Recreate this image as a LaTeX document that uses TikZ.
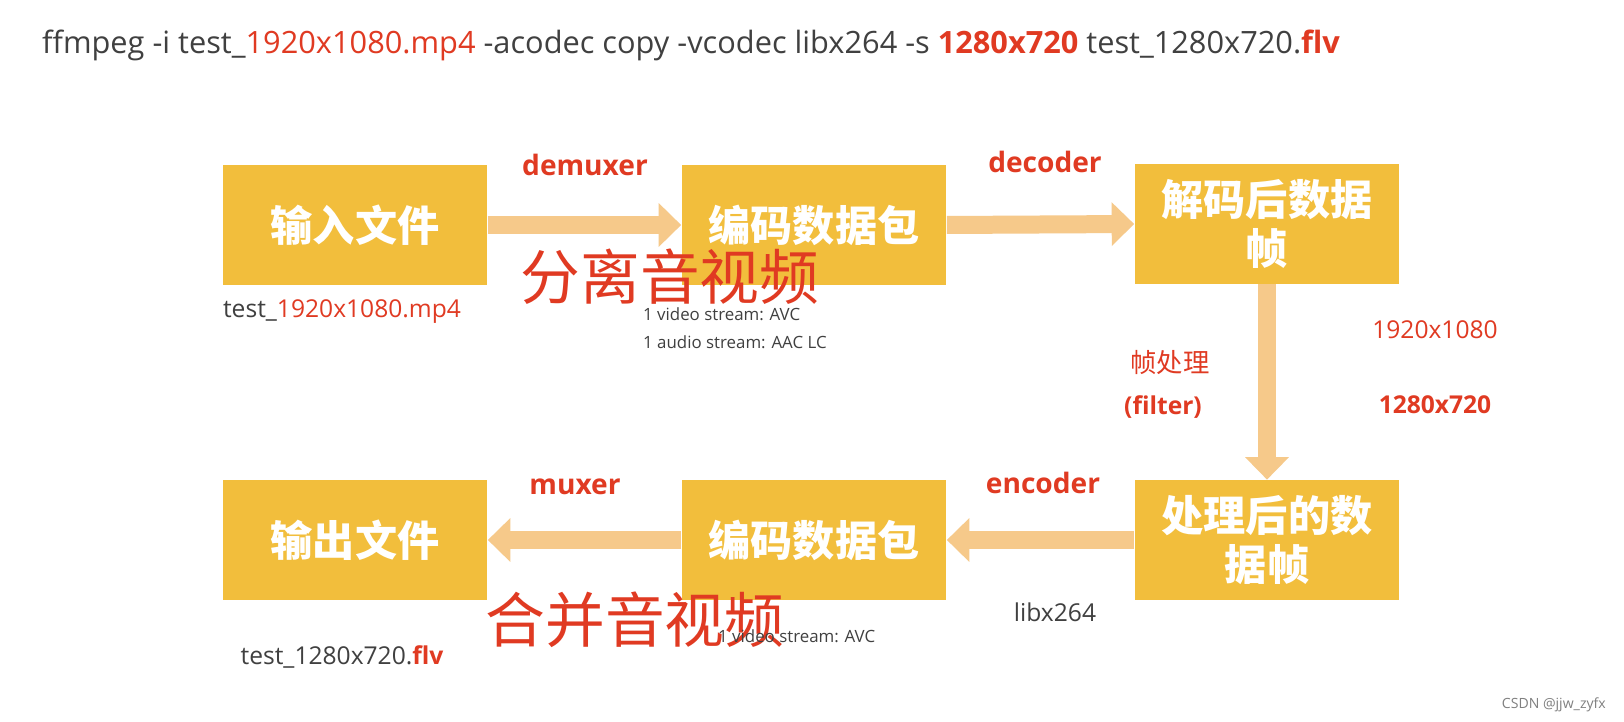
\documentclass[tikz,border=0pt]{standalone}
\usepackage{fontspec}
\setmainfont{Open Sans}
\newfontfamily\cjk{Noto Sans CJK SC}
\usetikzlibrary{arrows.meta,calc}
\definecolor{boxc}{HTML}{F2BE3C}
\definecolor{redc}{HTML}{E03A22}
\definecolor{arrc}{HTML}{F6C98A}
\definecolor{txtg}{HTML}{404040}
\tikzset{
 box/.style={fill=boxc,minimum width=5.3cm,minimum height=2.4cm,text=white,font=\cjk\bfseries\fontsize{24}{28}\selectfont,align=center,inner sep=2pt},
 barrow/.style={draw=arrc,line width=0.36cm,-{Triangle[width=0.85cm,length=0.45cm]}},
 lab/.style={text=redc,font=\bfseries\fontsize{16}{18}\selectfont},
 big/.style={text=redc,font=\cjk\fontsize{34}{36}\selectfont},
 small/.style={text=txtg,font=\fontsize{9.6}{11}\selectfont,anchor=west},
 mid/.style={text=txtg,font=\fontsize{14}{16}\selectfont}
}
\begin{document}
\begin{tikzpicture}[x=0.02cm,y=-0.02cm]
\useasboundingbox[fill=white] (0,0) rectangle (1624,722);
\node[text=txtg,font=\fontsize{17.5}{20}\selectfont,anchor=west] (cmd) at (36,45) {ffmpeg -i test\_\textcolor{redc}{1920x1080.mp4} -acodec copy -vcodec libx264 -s \textcolor{redc}{\textbf{1280x720}} test\_1280x720.\textcolor{redc}{\textbf{flv}}};
\node[box] (in) at (355,225) {输入文件};
\node[box] (p1) at (814,225) {编码数据包};
\node[box] (f1) at (1267,224) {解码后数据\\帧};
\node[box] (f2) at (1267,540) {处理后的数\\据帧};
\node[box] (p2) at (814,540) {编码数据包};
\node[box] (out) at (355,540) {输出文件};
\draw[barrow] (in.east) -- (p1.west);
\draw[barrow] (p1.east) -- (f1.west);
\draw[barrow] (f1.south) -- (f2.north);
\draw[barrow] (f2.west) -- (p2.east);
\draw[barrow] (p2.west) -- (out.east);
\node[lab] (l1) at (585,165) {demuxer};
\node[lab] (l2) at (1045,162) {decoder};
\node[lab] (l3) at (575,487) {muxer};
\node[lab] (l4) at (1043,483) {encoder};
\node[big] (b1) at (670,277) {分离音视频};
\node[big] (b2) at (635,620) {合并音视频};
\node[mid] (t1) at (342,312) {test\_\textcolor{redc}{1920x1080.mp4}};
\node[small] (s1) at (637,314) {1 video stream: AVC};
\node[small] (s2) at (637,342) {1 audio stream: AAC LC};
\node[small] (s3) at (712,636) {1 video stream: AVC};
\node[text=redc,font=\fontsize{14}{16}\selectfont] (r1) at (1435,330) {1920x1080};
\node[text=redc,font=\bfseries\fontsize{14}{16}\selectfont] (r2) at (1435,405) {1280x720};
\node[text=redc,font=\cjk\fontsize{15}{17}\selectfont] (fp) at (1170,363) {帧处理};
\node[text=redc,font=\bfseries\fontsize{14}{16}\selectfont] (ff) at (1163,407) {(filter)};
\node[mid] (lx) at (1055,612) {libx264};
\node[mid] (t2) at (342,657) {test\_1280x720.\textcolor{redc}{\textbf{flv}}};
\node[text=gray,font=\fontsize{8}{9}\selectfont,anchor=east] (cs) at (1612,705) {CSDN @jjw\_zyfx};
\end{tikzpicture}
\end{document}
